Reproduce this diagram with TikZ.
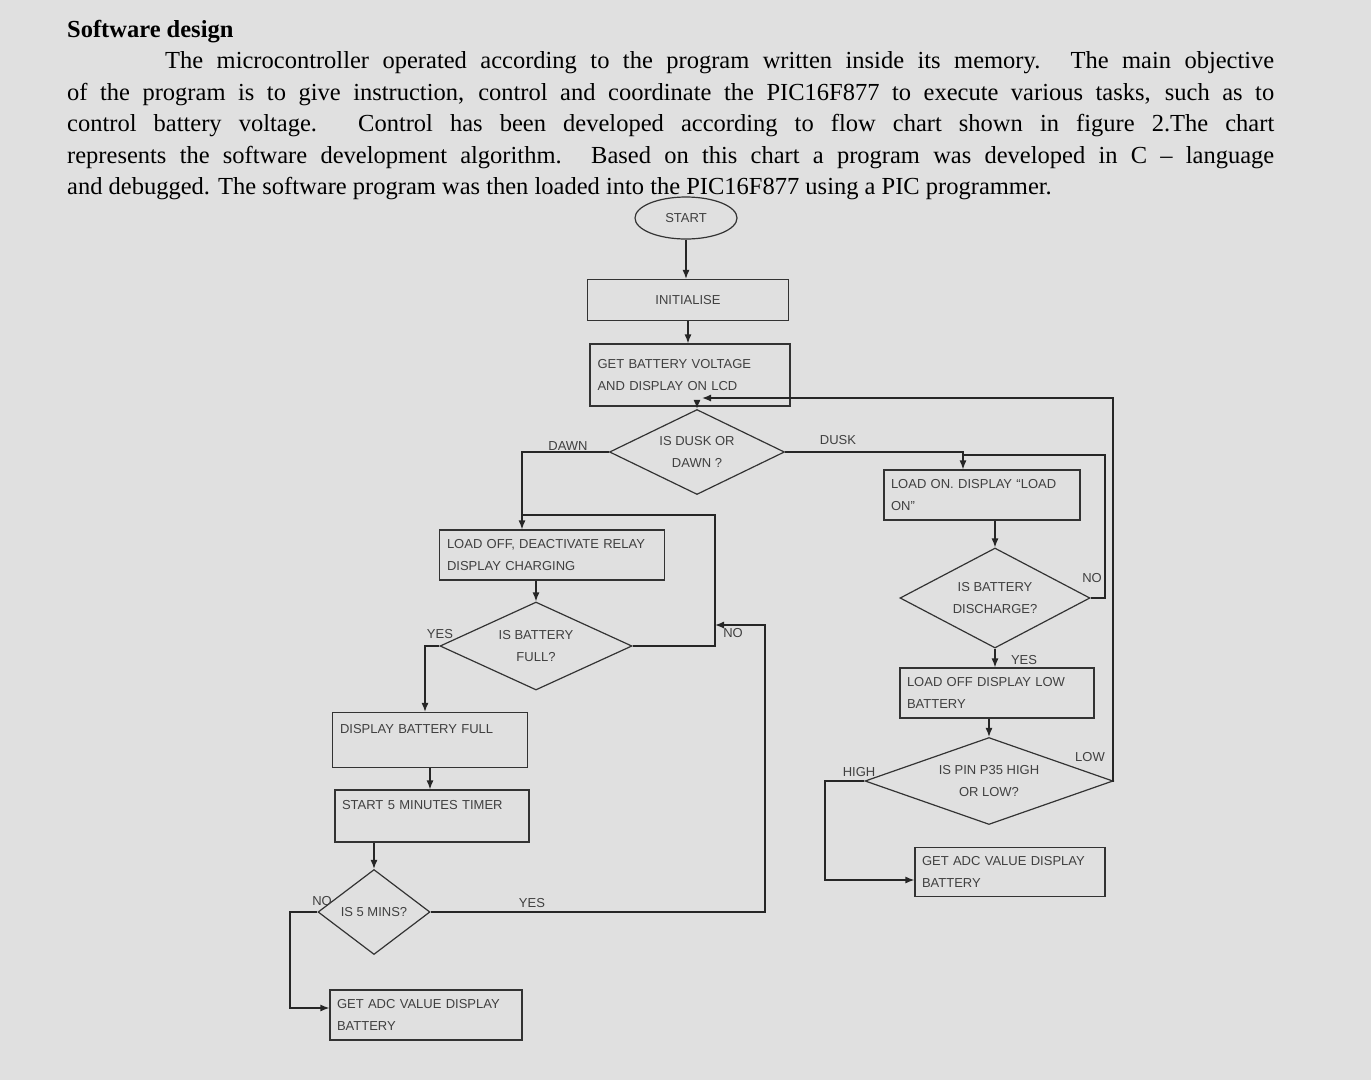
\documentclass[tikz,border=0pt]{standalone}
\usepackage{fontspec}
\setmainfont{Liberation Serif}
\newfontfamily\chartfont{Liberation Sans}
\usetikzlibrary{shapes.geometric,arrows.meta}
\begin{document}
\begin{tikzpicture}[x=1pt,y=-1pt,>={Latex[length=9pt,width=7pt]}]
		\tikzstyle{box}=[rectangle, draw=black!80, line width=1.2pt, text=black!75, align=left, inner sep=4pt, font=\chartfont\fontsize{13}{22}\selectfont]
		\tikzstyle{dec}=[diamond, draw=black!80, line width=1.2pt, text=black!75, align=center, aspect=2.1, inner sep=0pt, font=\chartfont\fontsize{13}{22}\selectfont]
		\tikzstyle{lbl}=[text=black!75, font=\chartfont\fontsize{13}{15}\selectfont]
		\tikzstyle{flow}=[draw=black!85, line width=1.3pt]
		
		% Background
		\fill[black!12] (0,0) rectangle (1371,1080);
		\useasboundingbox (0,0) rectangle (1371,1080);
		
		% Text
		\node[anchor=north west, text width=1207pt, align=justify, inner sep=0pt, font=\fontsize{24.5}{31.5}\selectfont] (para) at (67,20) {\textbf{Software design}\\
		\hspace*{98pt}The microcontroller operated according to the program written inside its memory. The main objective\linebreak
		of the program is to give instruction, control and coordinate the PIC16F877 to execute various tasks, such as to\linebreak
		control battery voltage. Control has been developed according to flow chart shown in figure 2.The chart\linebreak
		represents the software development algorithm. Based on this chart a program was developed in C – language\linebreak
		and debugged. The software program was then loaded into the PIC16F877 using a PIC programmer.\par};
		
		% Main column
		\node[ellipse, draw=black!80, line width=1.2pt, minimum width=102pt, minimum height=42pt, text=black!75, font=\chartfont\fontsize{13}{15}\selectfont] (start) at (686,218) {START};
		\node[box, minimum width=201pt, minimum height=41pt, align=center] (init) at (688,300) {INITIALISE};
		\node[box, minimum width=200pt, minimum height=62pt, text width=185pt] (getv) at (690,375) {GET BATTERY VOLTAGE\\AND DISPLAY ON LCD\\[-4pt]};
		\node[dec, minimum width=175pt, minimum height=85pt] (dusk) at (697,452) {IS DUSK OR\\DAWN ?};
		
		% Dawn branch
		\node[box, minimum width=225pt, minimum height=50pt, text width=210pt] (charge) at (552,555) {LOAD OFF, DEACTIVATE RELAY\\DISPLAY CHARGING};
		\node[dec, minimum width=192pt, minimum height=88pt] (full) at (536,646) {IS BATTERY\\FULL?};
		\node[box, minimum width=195pt, minimum height=55pt, text width=180pt] (dfull) at (430,740) {DISPLAY BATTERY FULL\\\mbox{}};
		\node[box, minimum width=194pt, minimum height=52pt, text width=180pt] (timer) at (432,816) {START 5 MINUTES TIMER\\\mbox{}};
		\node[dec, minimum width=112pt, minimum height=85pt] (mins) at (374,912) {IS 5 MINS?};
		\node[box, minimum width=192pt, minimum height=50pt, text width=178pt] (adcl) at (426,1015) {GET ADC VALUE DISPLAY\\BATTERY};
		
		% Dusk branch
		\node[box, minimum width=196pt, minimum height=50pt, text width=182pt] (loadon) at (982,495) {LOAD ON. DISPLAY “LOAD\\ON”};
		\node[dec, minimum width=190pt, minimum height=100pt] (disch) at (995,598) {IS BATTERY\\DISCHARGE?};
		\node[box, minimum width=194pt, minimum height=50pt, text width=180pt] (low) at (997,693) {LOAD OFF DISPLAY LOW\\BATTERY};
		\node[dec, minimum width=248pt, minimum height=87pt] (pin) at (989,781) {IS PIN P35 HIGH\\OR LOW?};
		\node[box, minimum width=190pt, minimum height=49pt, text width=176pt] (adcr) at (1010,872) {GET ADC VALUE DISPLAY\\BATTERY};
		
		% Corner points
		\coordinate (c_dawn) at (522,452);
		\coordinate (c_dusk) at (963,452);
		\coordinate (c_nofull) at (715,646);
		\coordinate (c_nofullt) at (715,515);
		\coordinate (c_yesfull) at (425,646);
		\coordinate (c_yes5) at (765,912);
		\coordinate (c_yes5t) at (765,625);
		\coordinate (c_no5) at (290,912);
		\coordinate (c_no5b) at (290,1008);
		\coordinate (c_nodis) at (1105,598);
		\coordinate (c_nodist) at (1105,455);
		\coordinate (c_low) at (1113,781);
		\coordinate (c_lowt) at (1113,398);
		\coordinate (c_ret) at (702,398);
		\coordinate (c_high) at (825,781);
		\coordinate (c_highb) at (825,880);
		
		% Connectors
		\draw[flow,->] (start.south) -- (start.south |- init.north);
		\draw[flow,->] (init.south) -- (init.south |- getv.north);
		\draw[flow,->] (dusk.north |- getv.south) -- (dusk.north);
		\draw[flow,->] (dusk.west) -- (c_dawn) -- (c_dawn |- charge.north);
		\draw[flow,->] (dusk.east) -- (c_dusk) -- (c_dusk |- loadon.north);
		\draw[flow,->] (full.north |- charge.south) -- (full.north);
		\draw[flow] (full.east) -- (c_nofull) -- (c_nofullt) -- (c_dawn |- c_nofullt);
		\draw[flow,->] (full.west) -- (c_yesfull) -- (c_yesfull |- dfull.north);
		\draw[flow,->] (dfull.south) -- (dfull.south |- timer.north);
		\draw[flow,->] (mins.north |- timer.south) -- (mins.north);
		\draw[flow,->] (mins.east) -- (c_yes5) -- (c_yes5t) -- (c_nofull |- c_yes5t);
		\draw[flow,->] (mins.west) -- (c_no5) -- (c_no5b) -- (adcl.west |- c_no5b);
		\draw[flow,->] (disch.north |- loadon.south) -- (disch.north);
		\draw[flow] (disch.east) -- (c_nodis) -- (c_nodist) -- (c_dusk |- c_nodist);
		\draw[flow,->] (disch.south) -- (disch.south |- low.north);
		\draw[flow,->] (pin.north |- low.south) -- (pin.north);
		\draw[flow,->] (pin.east) -- (c_low) -- (c_lowt) -- (c_ret);
		\draw[flow,->] (pin.west) -- (c_high) -- (c_highb) -- (adcr.west |- c_highb);
		
		% Branch labels
		\node[lbl] (l_dawn) at (568,446) {DAWN};
		\node[lbl] (l_dusk) at (838,440) {DUSK};
		\node[lbl] (l_yesfull) at (440,634) {YES};
		\node[lbl] (l_nofull) at (733,633) {NO};
		\node[lbl] (l_nodis) at (1092,578) {NO};
		\node[lbl] (l_yesdis) at (1024,660) {YES};
		\node[lbl] (l_high) at (859,772) {HIGH};
		\node[lbl] (l_low) at (1090,757) {LOW};
		\node[lbl] (l_no5) at (322,901) {NO};
		\node[lbl] (l_yes5) at (532,903) {YES};
		
\end{tikzpicture}
\end{document}
